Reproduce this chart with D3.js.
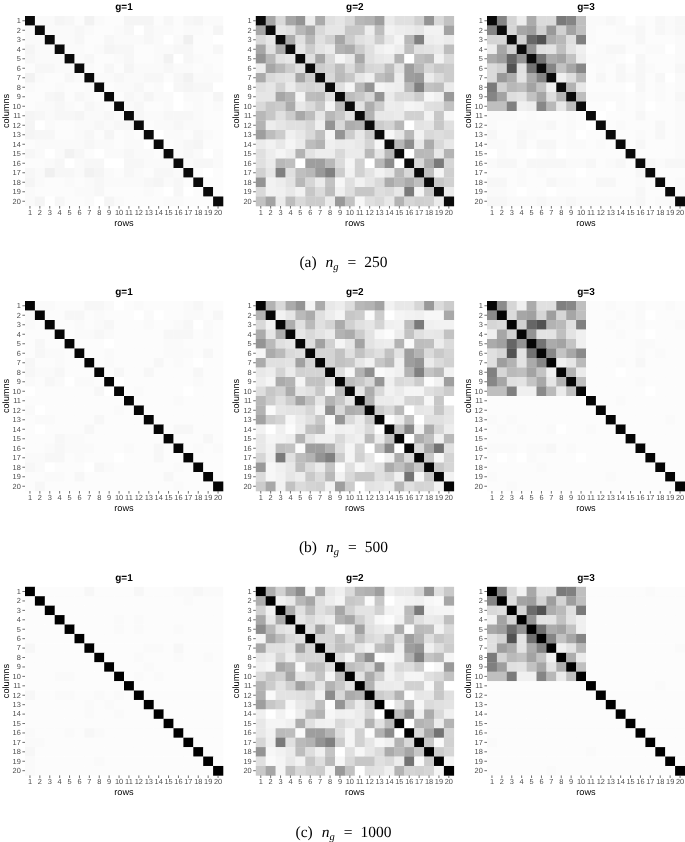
<!DOCTYPE html>
<html><head><meta charset="utf-8">
<script src="https://cdn.jsdelivr.net/npm/d3@7"></script>
<style>
html,body{margin:0;padding:0;background:#fff}
svg{display:block;filter:blur(0.4px);text-rendering:geometricPrecision}
</style></head><body><div id="c"></div>
<script>
// Each list holds the upper triangle (above the diagonal), darkness in percent.
const tickLabels=["1","2","3","4","5","6","7","8","9","10","11","12","13","14","15","16","17","18","19","20"];
const groups=["g=1","g=2","g=3"];
const captions=[["(a)","250"],["(b)","500"],["(c)","1000"]];
const diagonalA=96, diagonalB=98, diagonalC=100;

const g1A=[
[2,2,4,3,1,5,2,1,1,4,4,4,1,3,1,3,4,2,2],
[2,2,2,3,2,1,1,2,3,0,3,2,2,1,2,2,1,4],
[2,2,3,1,1,3,2,2,2,3,2,0,2,6,1,1,0],
[2,2,1,2,4,3,3,1,1,2,2,3,3,1,1,3],
[2,3,1,1,2,3,1,1,2,5,0,3,2,1,1],
[2,1,3,1,4,2,2,2,3,2,2,1,2,1],
[2,2,3,2,2,3,3,1,3,5,2,2,2],
[1,2,2,3,1,2,0,3,4,3,3,0],
[1,3,2,4,2,2,0,2,2,1,4],
[2,3,1,1,2,0,1,2,1,2],
[3,2,2,3,3,3,2,1,1],
[1,2,2,3,2,2,1,1],
[0,2,2,1,3,2,1],
[1,2,3,4,1,1],
[2,3,2,0,2],
[2,3,3,2],
[1,0,1],
[1,1],
[1]];
const g1B=[
[2,2,1,1,1,3,3,2,0,1,2,1,1,1,1,2,3,1,1],
[1,1,3,3,1,2,1,1,1,0,2,0,1,1,2,2,1,3],
[1,1,2,1,2,3,1,1,1,2,1,1,2,3,0,2,1],
[1,2,2,3,2,1,1,1,1,1,3,3,3,1,2,1],
[1,1,1,0,1,1,1,1,1,2,2,1,1,1,1],
[1,1,2,1,1,1,1,1,2,2,2,1,3,1],
[1,2,1,1,1,1,3,1,2,1,0,1,1],
[1,3,1,1,3,1,1,1,1,3,1,1],
[0,1,1,1,1,1,1,1,2,1,1],
[1,2,1,1,1,1,0,1,1,1],
[1,1,1,1,2,1,1,1,1],
[1,1,1,1,1,1,1,1],
[1,1,1,1,1,1,1],
[1,3,3,1,1,1],
[1,1,1,3,1],
[1,2,1,2],
[1,1,1],
[1,1],
[1]];
const g1C=[
[1,1,1,1,1,3,1,1,1,1,3,1,1,1,2,2,3,2,2],
[1,1,1,1,1,1,1,1,1,1,1,1,1,1,2,1,1,1],
[1,1,1,1,1,1,1,1,1,1,1,1,1,1,1,1,1],
[1,1,1,1,1,2,1,2,1,1,1,1,1,1,1,1],
[1,1,1,1,2,1,2,1,1,1,2,1,1,1,1],
[1,1,1,1,1,1,1,1,1,1,1,1,1,1],
[1,1,1,1,1,2,2,1,3,1,1,1,1],
[1,1,1,2,1,1,1,2,1,1,2,1],
[1,1,1,2,1,1,1,1,1,1,1],
[1,2,1,2,1,1,1,1,1,1],
[1,1,1,1,1,1,1,1,1],
[1,1,1,1,1,1,1,1],
[1,1,1,1,1,1,1],
[1,1,1,1,1,1],
[1,1,1,1,1],
[1,1,1,1],
[1,1,1],
[1,1],
[1]];

const g2A=[
[35,15,35,42,7,33,12,10,15,28,30,38,8,12,12,18,42,15,24],
[10,12,28,35,15,10,10,22,22,7,26,5,7,8,10,5,5,36],
[33,12,28,12,18,35,20,12,10,20,9,4,28,50,7,6,8],
[10,20,11,8,30,33,20,12,6,4,7,25,12,11,9,26],
[12,35,15,4,9,34,12,9,8,30,0,25,28,5,15],
[20,17,26,14,26,16,15,26,11,38,28,16,22,20],
[15,27,22,10,6,25,30,7,38,40,8,14,20],
[12,4,28,42,4,6,7,28,50,24,26,8],
[26,22,15,42,8,15,14,20,3,6,40],
[11,32,20,7,8,4,5,12,13,24],
[30,9,9,8,18,18,5,22,3],
[20,17,28,0,11,10,22,12],
[3,10,28,5,15,13,15],
[28,45,9,33,15,9],
[0,28,27,9,30],
[15,33,52,16],
[25,4,19],
[22,18],
[8]];
const g2B=[
[30,15,33,42,4,33,9,7,13,28,30,36,5,9,9,16,40,14,20],
[5,10,27,33,12,7,4,22,20,2,20,0,4,5,6,3,3,34],
[32,12,27,12,17,33,18,12,10,17,6,5,26,52,6,5,5],
[10,15,11,8,30,33,20,11,3,1,7,24,12,9,10,24],
[13,37,18,4,10,36,11,8,7,30,2,26,25,7,14],
[17,17,24,12,24,16,12,24,11,38,30,14,21,17],
[17,24,22,10,5,22,28,6,38,42,8,14,18],
[13,3,30,44,2,4,6,30,50,23,28,5],
[26,22,15,41,6,15,13,20,1,5,38],
[10,32,15,5,8,4,4,12,15,20],
[30,8,8,6,17,18,3,22,0],
[20,15,27,0,10,9,22,11],
[1,8,25,0,12,12,10],
[24,47,6,33,16,7],
[0,32,25,6,28],
[15,35,55,12],
[22,3,17],
[22,16],
[5]];
const g2C=[
[32,18,34,45,4,34,9,6,14,29,31,38,6,9,9,16,42,12,21],
[6,9,28,35,12,7,4,22,20,2,22,0,4,5,6,3,2,35],
[33,12,26,12,17,35,18,11,11,18,5,4,27,52,5,4,4],
[10,15,10,7,30,35,19,11,3,1,6,26,12,8,9,25],
[12,37,17,2,10,37,12,9,7,32,2,27,26,5,15],
[16,16,25,12,25,15,12,25,12,38,30,13,22,18],
[16,25,23,10,5,25,30,6,38,42,6,13,20],
[13,4,30,45,1,3,5,30,50,23,27,4],
[26,22,15,42,6,15,13,20,0,3,40],
[11,33,19,5,10,4,4,12,15,24],
[30,8,8,7,18,18,3,22,0],
[20,17,30,1,10,9,22,12],
[0,11,30,3,14,12,11],
[26,45,6,33,15,6],
[0,30,27,7,30],
[15,35,55,17],
[22,2,18],
[20,16],
[4]];

const g3A=[
[48,17,7,33,14,14,52,48,25,2,2,3,2,0,2,1,3,2,3],
[16,35,38,18,40,18,36,25,2,1,1,2,2,3,1,3,2,3],
[18,60,68,32,28,13,50,2,1,1,1,1,3,1,1,1,2],
[42,12,11,25,11,6,1,2,3,3,1,1,2,2,0,2],
[55,33,36,24,7,2,2,2,1,0,3,1,1,1,2],
[48,24,35,47,1,2,1,3,1,3,2,1,1,3],
[6,13,28,1,3,1,3,2,3,1,3,0,2],
[30,9,1,1,1,1,0,3,1,2,1,2],
[26,2,2,2,2,1,2,1,2,1,3],
[1,1,0,2,1,2,0,1,1,2],
[0,1,1,1,3,1,1,1,2],
[1,2,1,1,1,3,1,2],
[1,1,2,1,3,1,2],
[1,3,1,1,1,2],
[1,1,1,1,2],
[3,2,3,3],
[1,1,1],
[1,2],
[2]];
const g3B=[
[45,16,6,33,12,12,50,47,25,1,1,2,1,1,2,1,1,2,1],
[14,35,37,16,38,16,35,25,1,1,1,2,1,2,0,1,1,1],
[18,60,68,30,27,12,50,1,1,2,1,1,2,1,1,1,2],
[42,11,11,25,11,6,1,1,1,2,1,1,0,1,1,1],
[55,33,36,23,6,1,1,1,1,1,2,2,1,1,1],
[47,23,34,46,1,1,1,1,1,2,1,2,1,1],
[6,10,27,1,1,1,2,1,3,1,1,1,1],
[30,8,1,1,1,0,1,1,1,1,1,1],
[25,1,1,1,1,1,2,1,1,1,1],
[1,1,1,1,1,1,0,1,1,1],
[1,1,2,1,1,1,1,1,1],
[1,1,1,1,1,1,1,1],
[1,1,1,1,1,2,1],
[1,1,1,1,1,1],
[1,1,1,1,1],
[1,1,1,1],
[1,1,1],
[1,1],
[1]];
const g3C=[
[48,15,5,34,12,12,52,50,25,1,1,1,1,1,1,2,1,1,1],
[13,36,38,17,38,17,38,25,1,1,1,1,1,1,1,1,1,1],
[17,58,68,32,27,12,52,1,1,1,1,1,1,1,1,1,1],
[42,11,11,24,11,6,1,1,1,1,1,1,1,1,1,1],
[56,33,36,24,6,1,1,1,1,1,1,1,1,1,1],
[48,24,35,48,1,1,1,1,1,1,1,1,1,1],
[6,11,28,1,1,1,1,1,1,1,1,1,2],
[32,8,1,1,1,1,1,1,1,1,1,1],
[25,1,1,1,1,1,1,1,1,1,1],
[1,1,1,1,1,1,1,1,1,1],
[1,1,1,1,1,1,2,1,1],
[1,1,1,1,1,1,1,1],
[1,1,1,1,1,1,1],
[1,1,1,1,1,1],
[1,1,1,1,1],
[1,1,1,1],
[1,1,1],
[1,1],
[1]];

const panelValues=[[g1A,g2A,g3A],[g1B,g2B,g3B],[g1C,g2C,g3C]];
const diagonals=[diagonalA,diagonalB,diagonalC];

const W=685,H=842;
const columnLefts=[25,255.8,487];
const columnWidth=198;
const rowTops=[16,301,586.8];
const rowHeights=[190,190,188.6];
const captionYs=[267,552,837];
const sans='"Liberation Sans",Arial,sans-serif';
const serif='"Liberation Serif","DejaVu Serif",serif';

const svg=d3.select("#c").append("svg").attr("width",W).attr("height",H).attr("viewBox",`0 0 ${W} ${H}`);
const shade=d3.scaleLinear().domain([0,100]).range(["#ffffff","#000000"]);

function cellsOf(upper,diag){
  const out=[];
  tickLabels.forEach((rowLab,i)=>{
    tickLabels.forEach((colLab,j)=>{
      let v;
      if(i===j) v=diag;
      else{const a=Math.min(i,j),b=Math.max(i,j);const row=upper[a];v=row[row.length-(tickLabels.length-b)];}
      out.push({col:colLab,row:rowLab,v});
    });
  });
  return out;
}

rowTops.forEach((top,ri)=>{
  const h=rowHeights[ri];
  groups.forEach((name,ci)=>{
    const left=columnLefts[ci];
    const x=d3.scaleBand().domain(tickLabels).range([left,left+columnWidth]).padding(0);
    const y=d3.scaleBand().domain(tickLabels).range([top,top+h]).padding(0);
    const g=svg.append("g");
    g.selectAll("rect").data(cellsOf(panelValues[ri][ci],diagonals[ri])).join("rect")
      .attr("x",d=>x(d.col)).attr("y",d=>y(d.row))
      .attr("width",x.bandwidth()+0.3).attr("height",y.bandwidth()+0.3)
      .attr("fill",d=>shade(d.v));
    const ax=g.append("g").attr("transform",`translate(0,${top+h})`)
      .call(d3.axisBottom(x).tickSize(2.6).tickPadding(1.2));
    const ay=g.append("g").attr("transform",`translate(${left},0)`)
      .call(d3.axisLeft(y).tickSize(2.6).tickPadding(1.6));
    [ax,ay].forEach(a=>{
      a.select(".domain").remove();
      a.selectAll("line").attr("stroke","#333").attr("stroke-width",0.7);
      a.selectAll("text").attr("fill","#4d4d4d").attr("font-family",sans).attr("font-size",7.4);
    });
    g.append("text").attr("x",left+columnWidth/2).attr("y",top-6)
      .attr("text-anchor","middle").attr("font-family",sans).attr("font-weight","bold")
      .attr("font-size",10).attr("fill","#000").text(name);
    g.append("text").attr("x",left+columnWidth/2).attr("y",top+h+19.6)
      .attr("text-anchor","middle").attr("font-family",sans).attr("font-size",9.2)
      .attr("fill","#000").text("rows");
    const lx=left-16.5;
    g.append("text").attr("transform",`translate(${lx},${top+h/2}) rotate(-90)`)
      .attr("text-anchor","middle").attr("font-family",sans).attr("font-size",9.2)
      .attr("fill","#000").text("columns");
  });
  const t=svg.append("text").attr("x",343.5).attr("y",captionYs[ri]).attr("text-anchor","middle")
    .attr("font-family",serif).attr("font-size",15.5).attr("fill","#000");
  t.append("tspan").text(captions[ri][0]);
  t.append("tspan").attr("font-style","italic").attr("dx",9).text("n");
  t.append("tspan").attr("font-style","italic").attr("font-size",10.5).attr("dy",2.5).text("g");
  t.append("tspan").attr("dy",-2.5).attr("dx",9).text("=");
  t.append("tspan").attr("dx",8).text(captions[ri][1]);
});
</script></body></html>
